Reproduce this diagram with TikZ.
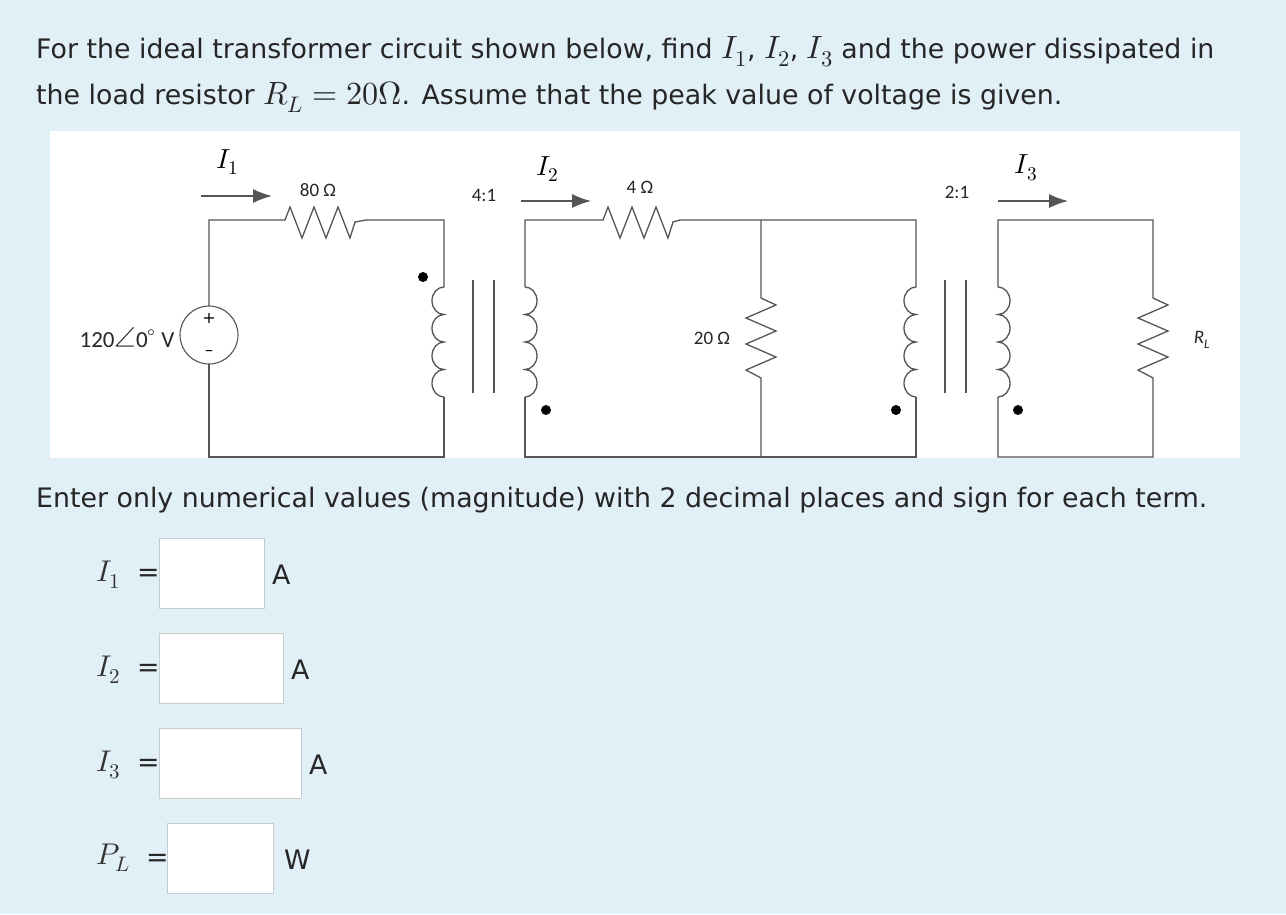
\documentclass[tikz,border=0pt]{standalone}
\usepackage{fontspec}
\setmainfont{DejaVu Sans}
\newfontfamily\calfont{Carlito}
\usepackage{unicode-math}
\setmathfont{Latin Modern Math}[Scale=1.2]
\usetikzlibrary{arrows.meta}
\definecolor{bg}{HTML}{E1EFF7}
\definecolor{wire}{HTML}{555555}
\definecolor{bx}{HTML}{C8CCCE}
\begin{document}
\begin{tikzpicture}[x=1pt,y=-1pt,
  w/.style={wire,line width=1.3pt},
  cur/.style={wire,line width=1.3pt,-{Latex[length=19,width=14]}},
  lab/.style={font=\calfont\fontsize{19}{19}\selectfont,text=black!85},
  ilab/.style={font=\fontsize{23}{23}\selectfont},
  dotc/.style={fill=black,circle,inner sep=0,minimum size=10},
  txt/.style={font=\fontsize{26.8}{30}\selectfont,text=black!85,anchor=west,inner sep=0},
  ans/.style={draw=bx,fill=white,line width=1pt},
  eq/.style={font=\fontsize{25}{25}\selectfont,anchor=west,inner sep=0,text=black!80}]
\fill[bg] (0,0) rectangle (1286,914);
\useasboundingbox (0,0) rectangle (1286,914);
\fill[white] (50,131) rectangle (1240,458);
\node[txt] (t1) at (36,52) {For the ideal transformer circuit shown below, find $I_1$, $I_2$, $I_3$ and the power dissipated in};
\node[txt] (t2) at (36,97) {the load resistor $R_L=20\Omega$. Assume that the peak value of voltage is given.};
% left loop
\coordinate (a1) at (209,306);
\coordinate (a2) at (209,364);
\draw[w] (a1) |- (285,220) -- (290,207) -- (302,238) -- (314,207) -- (326,238) -- (338,207) -- (350,238) -- (355,222) -- (366,220) -| (444,287);
\draw[w] (a2) |- (444,457) -- (444,397);
\draw[wire,line width=1.1pt] (209,335) circle (29);
\node (src) at (209,335) {};
\node[font=\fontsize{16}{16}\selectfont] (pl) at (209,318) {+};
\node[font=\fontsize{16}{16}\selectfont] (mi) at (209,353) {--};
\node[lab,anchor=east,font=\calfont\fontsize{23}{23}\selectfont] (vs) at (178,338) {120$\angle$0$^{\circ}$ V};
\draw[w] (444,287) \foreach \i in {1,...,4}{ arc[start angle=270,end angle=90,x radius=12,y radius=13.75]};
\node[dotc] (d1) at (423,277) {};
\draw[wire,line width=1.2pt] (473,280) -- (473,393) (494,280) -- (494,393);
\node[lab] (r1) at (318,190) {80 Ω};
\node[lab] (n41) at (484,195) {4:1};
\coordinate (i1a) at (201,196); \coordinate (i1b) at (272,196);
\draw[cur] (i1a) -- (i1b);
\node[ilab] (I1) at (228,162) {$I_1$};
% middle loop
\draw[w] (525,287) -- (525,220) -- (603,220) -- (608,207) -- (620,238) -- (632,207) -- (644,238) -- (656,207) -- (668,238) -- (673,222) -- (680,220) -- (916,220) -- (916,287);
\draw[w] (525,397) -- (525,457) -- (916,457) -- (916,397);
\draw[w] (525,287) \foreach \i in {1,...,4}{ arc[start angle=270,end angle=450,x radius=12,y radius=13.75]};
\node[dotc] (d2) at (546,410) {};
\draw[w] (761,220) -- (761,298) -- (776,305) -- (746,318) -- (776,331) -- (746,344) -- (776,357) -- (746,370) -- (761,378) -- (761,457);
\node[lab] (r20) at (712,338) {20 Ω};
\node[lab] (r4) at (640,187) {4 Ω};
\coordinate (i2a) at (521,201); \coordinate (i2b) at (591,201);
\draw[cur] (i2a) -- (i2b);
\node[ilab] (I2) at (548,169) {$I_2$};
\draw[w] (916,287) \foreach \i in {1,...,4}{ arc[start angle=270,end angle=90,x radius=12,y radius=13.75]};
\node[dotc] (d3) at (896,410) {};
\draw[wire,line width=1.2pt] (945,280) -- (945,393) (966,280) -- (966,393);
\node[lab] (n21) at (957,192) {2:1};
% right loop
\draw[w] (998,287) -- (998,220) -- (1153,220) -- (1153,298) -- (1168,305) -- (1138,318) -- (1168,331) -- (1138,344) -- (1168,357) -- (1138,370) -- (1153,378) -- (1153,457) -- (998,457) -- (998,397);
\draw[w] (998,287) \foreach \i in {1,...,4}{ arc[start angle=270,end angle=450,x radius=12,y radius=13.75]};
\node[dotc] (d4) at (1018,410) {};
\coordinate (i3a) at (998,201); \coordinate (i3b) at (1068,201);
\draw[cur] (i3a) -- (i3b);
\node[ilab] (I3) at (1026,168) {$I_3$};
\node[lab] (RL) at (1202,340) {\itshape R\textsubscript{L}};
% answers
\node[txt] (t3) at (36,500) {Enter only numerical values (magnitude) with 2 decimal places and sign for each term.};
\node[eq] (e1) at (96,575) {$I_1$};
\node[txt] (q1) at (137,575) {=};
\draw[ans] (159,538) rectangle (264,608);
\node[txt] (u1) at (272,575) {A};
\node[eq] (e2) at (96,670) {$I_2$};
\node[txt] (q2) at (137,670) {=};
\draw[ans] (159,633) rectangle (283,703);
\node[txt] (u2) at (291,670) {A};
\node[eq] (e3) at (96,765) {$I_3$};
\node[txt] (q3) at (137,765) {=};
\draw[ans] (159,728) rectangle (301,798);
\node[txt] (u3) at (309,765) {A};
\node[eq] (e4) at (96,858) {$P_L$};
\node[txt] (q4) at (146,860) {=};
\draw[ans] (167,823) rectangle (273,893);
\node[txt] (u4) at (284,860) {W};
\end{tikzpicture}
\end{document}
